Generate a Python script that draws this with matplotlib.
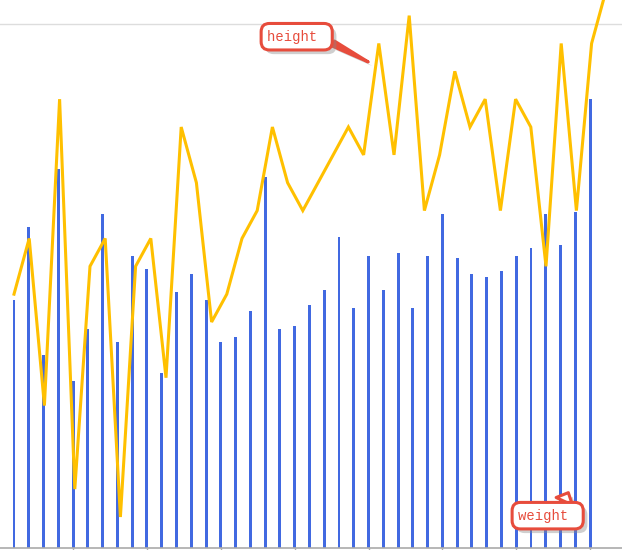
import matplotlib
matplotlib.use('Agg')
import matplotlib.pyplot as plt
import matplotlib.patheffects as pe
import numpy as np

# weight per sample (bars) and height per sample (line)
weight = [49.6, 64.2, 38.6, 75.8, 33.5, 43.8, 66.8, 41.2, 58.4, 55.8,
          35.0, 51.2, 54.8, 49.6, 41.2, 42.2, 47.4, 74.2, 43.8, 44.4,
          48.6, 51.6, 62.2, 48.0, 58.4, 51.6, 59.0, 48.0, 58.4, 66.8,
          58.0, 54.8, 54.2, 55.4, 58.4, 60.0, 66.8, 60.6, 67.2, 89.8]
height = [169, 171, 165, 176, 162, 170, 171, 161, 170, 171,
          166, 175, 173, 168, 169, 171, 172, 175, 173, 172,
          173, 174, 175, 174, 178, 174, 179, 172, 174, 177,
          175, 176, 172, 176, 175, 170, 178, 172, 178, 180]
tick_pos = [4, 9, 14, 19, 24, 29, 34, 39]
top_rule = 104.7

blue = '#4169e1'
amber = '#ffc000'
red = '#e74c3c'

fig = plt.figure(figsize=(6.22, 5.5), dpi=100)
ax = fig.add_axes([0, 2 / 550, 1, 548 / 550])

x = np.arange(len(weight))
ax.bar(x, weight, width=0.2, color=blue, zorder=2)
ax.set_xlim(-0.948, 41.16)
ax.set_ylim(0, 109.6)
ax.axhline(top_rule, color='#dddddd', lw=1, zorder=1)

for s in ['top', 'left', 'right']:
    ax.spines[s].set_visible(False)
ax.spines['bottom'].set_color('#aaaaaa')
ax.spines['bottom'].set_linewidth(1.2)
ax.set_xticks(tick_pos)
ax.set_xticklabels([])
ax.set_yticks([])
ax.tick_params(axis='x', length=4, color='#aaaaaa', width=1)

# line sits on its own (slightly wider) category scale
ax2 = fig.add_axes([0, 2 / 550, 1, 548 / 550], frameon=False)
ax2.plot(np.arange(len(height)), height, color=amber, lw=2.2,
         solid_joinstyle='miter', zorder=3)
ax2.set_xlim(-0.921, 40.0)
ax2.set_ylim(159.887, 179.56)
ax2.set_xticks([])
ax2.set_yticks([])

shadow = [pe.SimplePatchShadow(offset=(3, -3), shadow_rgbFace='#888888', alpha=0.4),
          pe.Normal()]


def callout(label, text_xy, tip_xy, relpos, tail, tail_fill):
    ann = ax2.annotate(label, xy=tip_xy, xytext=text_xy,
                       xycoords='axes fraction', textcoords='axes fraction',
                       ha='center', va='center', color=red,
                       family='Liberation Mono', fontsize=10,
                       bbox=dict(boxstyle='round,pad=0.45,rounding_size=0.6',
                                 fc='white', ec=red, lw=2.2),
                       arrowprops=dict(arrowstyle='wedge,tail_width=%s' % tail,
                                       fc=tail_fill, ec=red, lw=2.2,
                                       shrinkA=0, shrinkB=0, relpos=relpos),
                       zorder=5)
    ann.get_bbox_patch().set_path_effects(shadow)
    ann.arrow_patch.set_path_effects(shadow)
    return ann


callout('height ', (0.477, 0.933), (0.592, 0.887), (0.97, 0.35), 0.4, red)
callout('weight ', (0.8805, 0.059), (0.9137, 0.101), (0.72, 0.95), 1.3, 'white')

fig.savefig('out.png', dpi=100)
